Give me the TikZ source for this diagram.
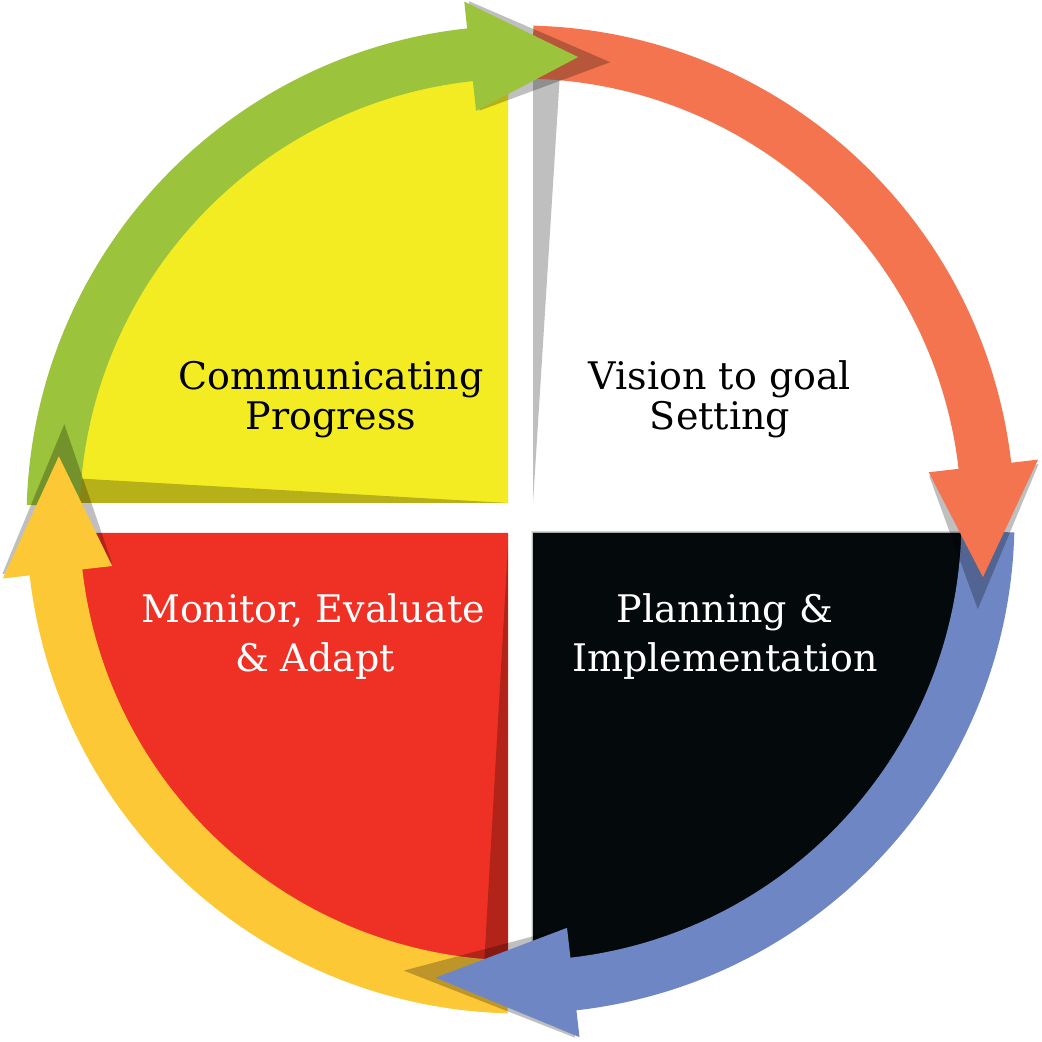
\documentclass[tikz,border=0pt]{standalone}
\usepackage{fontspec}
\setmainfont{DejaVu Serif}
\definecolor{qyellow}{HTML}{F3EC22}
\definecolor{qred}{HTML}{EE3124}
\definecolor{qblack}{HTML}{04090B}
\definecolor{agreen}{HTML}{9BC43C}
\definecolor{aorange}{HTML}{F3744F}
\definecolor{ablue}{HTML}{6E87C4}
\definecolor{ayellow}{HTML}{FDC836}
\def\ri{441}\def\ro{494}\def\hm{466}\def\hri{411}\def\hro{521}
\newcommand\sectorpath[2]{(#1:\ri) -- (#1:\ro) arc[start angle=#1,end angle=#2,radius=\ro] -- (#2:\ri) arc[start angle=#2,end angle=#1,radius=\ri] -- cycle}
\newcommand\headtri[2]{(#1:\hro) -- (#2:\hm) -- (#1:\hri) -- cycle}
\tikzset{
  shade25/.style={fill=black, fill opacity=0.25},
  lbl/.style={font=\fontsize{38}{40}\selectfont, inner sep=0pt, anchor=base}
}
\begin{document}
\begin{tikzpicture}[x=1pt,y=1pt]
\useasboundingbox (0,0) rectangle (1042,1042);
\fill[white] (0,0) rectangle (1042,1042);
% quadrants
\fill[qyellow] (508,539) -- ++(180:455) arc[start angle=180,end angle=90,radius=455] -- cycle;
\begin{scope}
  \clip (508,539) -- ++(180:455) arc[start angle=180,end angle=90,radius=455] -- cycle;
  \fill[shade25] (508,539) -- (0,568) -- (0,539) -- cycle;
\end{scope}
\fill[qred] (508,509) -- ++(270:455) arc[start angle=270,end angle=180,radius=455] -- cycle;
\begin{scope}
  \clip (508,509) -- ++(270:455) arc[start angle=270,end angle=180,radius=455] -- cycle;
  \fill[shade25] (508,497) -- (482,40) -- (508,40) -- cycle;
\end{scope}
\fill[shade25] (531.5,510.5) -- ++(0:455) arc[start angle=0,end angle=-90,radius=455] -- cycle;
\fill[qblack] (533,509) -- ++(0:455) arc[start angle=0,end angle=-90,radius=455] -- cycle;
\fill[shade25] (533,539) -- (533,985) -- (561,985) -- cycle;
% arrows
\begin{scope}[shift={(520.5,522.5)}]
  % bands (extended slightly under the heads to avoid seams)
  \fill[agreen] \sectorpath{178.3}{94.7};
  \fill[aorange] \sectorpath{88.5}{5.1};
  \fill[ablue] \sectorpath{-1.5}{-85};
  \fill[ayellow] \sectorpath{-91.5}{-175};
  % head shadows
  \fill[shade25] \headtri{95.7}{78.9};
  \fill[shade25] \headtri{6.1}{-11.1};
  \fill[shade25] \headtri{-84}{-104.5};
  \fill[shade25] \headtri{-174}{-191.8};
  % heads
  \fill[agreen] \headtri{96.2}{82.9};
  \fill[aorange] \headtri{6.6}{-7.1};
  \fill[ablue] \headtri{-83.5}{-100.5};
  \fill[ayellow] \headtri{-173.5}{-187.8};
\end{scope}
% labels
\node[lbl, text=black] (c1) at (331,652) {Communicating};
\node[lbl, text=black] (c2) at (331,612) {Progress};
\node[lbl, text=black] (v1) at (720,652) {Vision to goal};
\node[lbl, text=black] (v2) at (720,612) {Setting};
\node[lbl, text=white] (m1) at (313,419) {Monitor, Evaluate};
\node[lbl, text=white] (m2) at (315,370) {\& Adapt};
\node[lbl, text=white] (p1) at (725,419) {Planning \&};
\node[lbl, text=white] (p2) at (725,370) {Implementation};
\end{tikzpicture}
\end{document}
